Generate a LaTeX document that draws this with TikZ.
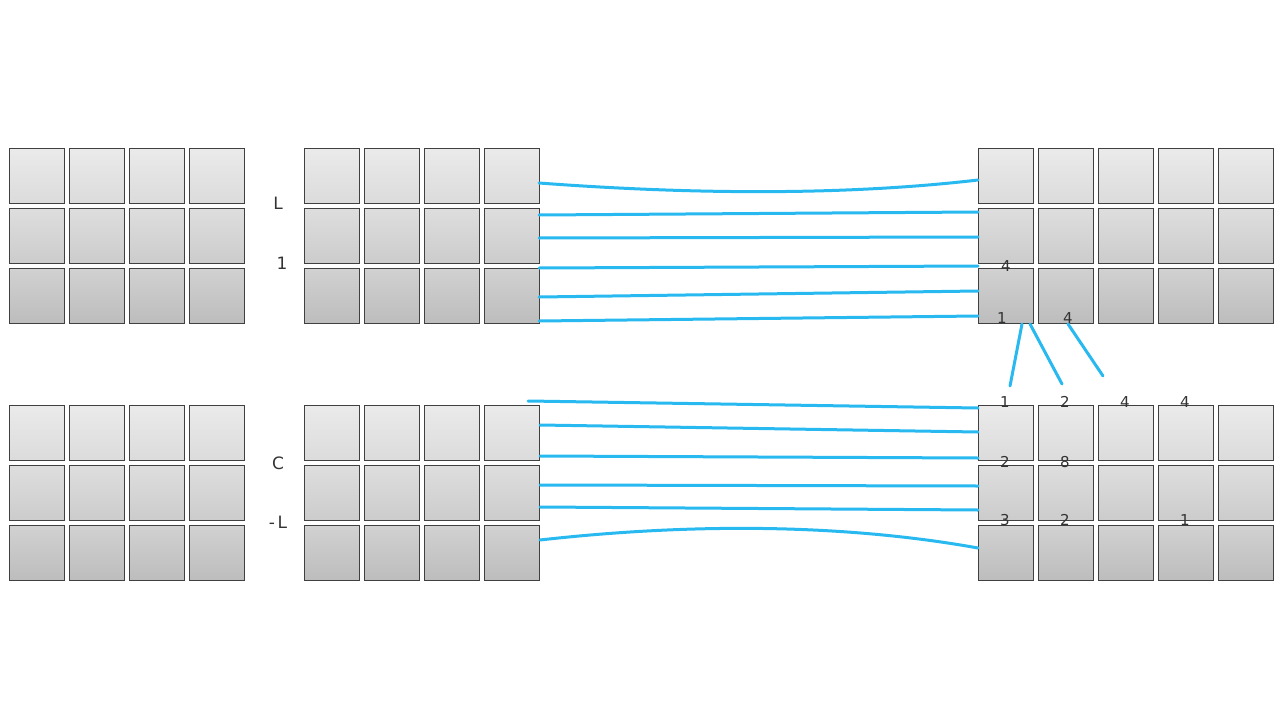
\documentclass[tikz,border=0pt]{standalone}
\usepackage{fontspec}
\setmainfont{DejaVu Sans}
\begin{document}
\begin{tikzpicture}[x=1pt,y=-1pt,
  cell/.style={draw=black!75,line width=0.8pt,minimum width=55pt,minimum height=55pt,anchor=north west,inner sep=0pt},
  fib/.style={draw={rgb,255:red,40;green,185;blue,240},line width=3pt,line cap=round},
  lab/.style={font=\fontsize{17}{17}\selectfont,text=black!80},
  dig/.style={font=\fontsize{15}{15}\selectfont,text=black!80}]
\useasboundingbox (0,0) rectangle (1280,720);
\fill[white] (0,0) rectangle (1280,720);
\foreach \gx/\nc/\g in {9/4/a,304/4/b,978/5/c}{
  \foreach \gy/\h in {148/t,405/u}{
    \foreach \r/\ta/\tb in {0/8/14,1/13/20,2/18/26}{
      \foreach \c in {1,...,\nc}{
        \node[cell,top color=black!\ta,bottom color=black!\tb] (\g\h\r\c) at ({\gx+(\c-1)*60},{\gy+\r*60}) {};
      }}}}
% fibres top
\coordinate (s1) at (539,183); \coordinate (e1) at (978,180);
\draw[fib] (s1) .. controls (700,195) and (850,195) .. (e1);
\foreach \a/\b [count=\i] in {215/212,238/237,268/266,297/291,321/316}{
  \draw[fib] (539,\a) -- (978,\b);}
% fibres bottom
\foreach \a/\b/\s in {401/408/528,425/432/540,456/458/540,485/486/540,507/510/540}{
  \draw[fib] (\s,\a) -- (978,\b);}
\draw[fib] (540,540) .. controls (700,522) and (850,525) .. (978,548);
% diagonal
\draw[fib] (1022,324) -- (1010,386);
\draw[fib] (1030,324) -- (1062,384);
\draw[fib] (1068,324) -- (1103,376);
% labels
\node[lab] (l1) at (278,203) {L};
\node[lab] (l2) at (282,263) {1};
\node[lab] (l3) at (278,463) {C};
\node[lab] (l4) at (278,522) {-\,L};
\foreach \x/\y/\t [count=\i] in {1006/266/4,1002/318/1,1068/318/4,1005/402/1,1065/402/2,1125/402/4,1185/402/4,1005/462/2,1065/462/8,1005/520/3,1065/520/2,1185/520/1}{
  \node[dig] (d\i) at (\x,\y) {\t};}
\end{tikzpicture}
\end{document}
